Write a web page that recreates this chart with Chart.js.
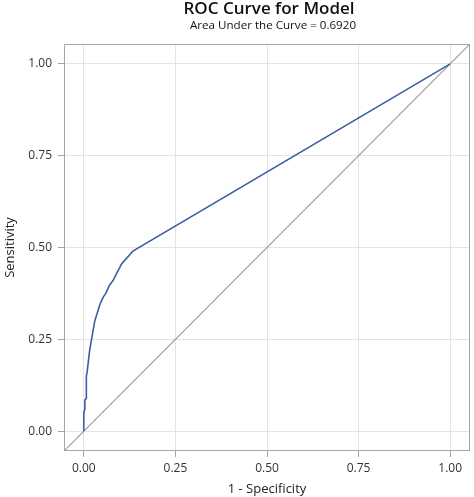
<!DOCTYPE html>
<html>
<head>
<meta charset="utf-8">
<title>ROC Curve for Model</title>
<script src="https://cdn.jsdelivr.net/npm/chart.js"></script>
<style>
  html, body { margin: 0; padding: 0; background: #fff; }
  #wrap { width: 474px; height: 497px; }
</style>
</head>
<body>
<div id="wrap"><canvas id="rocChart" width="474" height="497"></canvas></div>
<script>
  // data
  const fpr = [0, 0, 0.003, 0.003, 0.007, 0.007, 0.009, 0.016, 0.023, 0.030, 0.044, 0.048, 0.053, 0.060, 0.069, 0.075, 0.080, 0.090, 0.098, 0.103, 0.134, 1];
  const tpr = [0, 0.05, 0.06, 0.085, 0.09, 0.15, 0.16, 0.22, 0.26, 0.30, 0.345, 0.354, 0.365, 0.375, 0.395, 0.404, 0.41, 0.43, 0.445, 0.455, 0.49, 1];
  const tickValues = [0, 0.25, 0.5, 0.75, 1];
  const axisMin = -0.054;
  const axisMax = 1.054;
  const diag = [axisMin, axisMax];
  const chartTitle = 'ROC Curve for Model';
  const chartSubtitle = 'Area Under the Curve = 0.6920';

  const FONT = "'Open Sans', 'Noto Sans', sans-serif";

  // titles centred over the plot, plus the full frame around it
  const framePlugin = {
    id: 'frame',
    beforeDatasetsDraw(chart) {
      const a = chart.chartArea, c = chart.ctx;
      c.save();
      c.strokeStyle = '#a6a6a6';
      c.lineWidth = 1;
      c.strokeRect(a.left + 0.5, a.top + 0.5, a.right - a.left - 1, a.bottom - a.top - 1);
      c.restore();
    },
    afterDraw(chart) {
      const a = chart.chartArea, c = chart.ctx;
      const cx = (a.left + a.right) / 2 + 2;
      c.save();
      c.fillStyle = '#111';
      c.textAlign = 'center';
      c.textBaseline = 'middle';
      c.font = '600 17px ' + FONT;
      c.fillText(chartTitle, cx, 9);
      c.font = '11.6px ' + FONT;
      c.fillText(chartSubtitle, cx + 4, 26);
      c.restore();
    }
  };

  const ctx = document.getElementById('rocChart').getContext('2d');
  const fixTicks = function(scale) {
    scale.ticks = tickValues.map(v => ({ value: v }));
  };

  new Chart(ctx, {
    type: 'scatter',
    data: {
      datasets: [
        {
          label: 'Chance',
          data: diag.map(v => ({ x: v, y: v })),
          showLine: true,
          borderColor: '#9c9c9c',
          borderWidth: 1.2,
          pointRadius: 0,
          order: 2
        },
        {
          label: 'Model',
          data: fpr.map((v, i) => ({ x: v, y: tpr[i] })),
          showLine: true,
          borderColor: '#3c5da6',
          borderWidth: 1.6,
          pointRadius: 0,
          tension: 0,
          order: 1
        }
      ]
    },
    options: {
      responsive: false,
      animation: false,
      layout: { padding: { top: 44, right: 4, left: 0, bottom: 0 } },
      plugins: {
        legend: { display: false },
        tooltip: { enabled: false }
      },
      scales: {
        x: {
          type: 'linear',
          min: axisMin,
          max: axisMax,
          afterBuildTicks: fixTicks,
          afterFit(scale) { scale.height = 46; },
          grid: { color: '#e4e4e4', tickColor: '#a6a6a6', tickLength: 6 },
          border: { display: false },
          ticks: {
            padding: 4,
            color: '#333',
            font: { family: FONT, size: 12 },
            callback: v => v.toFixed(2)
          },
          title: {
            display: true,
            text: '1 - Specificity',
            color: '#222',
            padding: { top: 0, bottom: 0 },
            font: { family: FONT, size: 13 }
          }
        },
        y: {
          type: 'linear',
          min: axisMin,
          max: axisMax,
          afterBuildTicks: fixTicks,
          afterFit(scale) { scale.width = 64; },
          grid: { color: '#e4e4e4', tickColor: '#a6a6a6', tickLength: 6 },
          border: { display: false },
          ticks: {
            padding: 6,
            color: '#333',
            font: { family: FONT, size: 12 },
            callback: v => v.toFixed(2)
          },
          title: {
            display: true,
            text: 'Sensitivity',
            color: '#222',
            padding: { top: 2, bottom: 0 },
            font: { family: FONT, size: 13 }
          }
        }
      }
    },
    plugins: [framePlugin]
  });
</script>
</body>
</html>
